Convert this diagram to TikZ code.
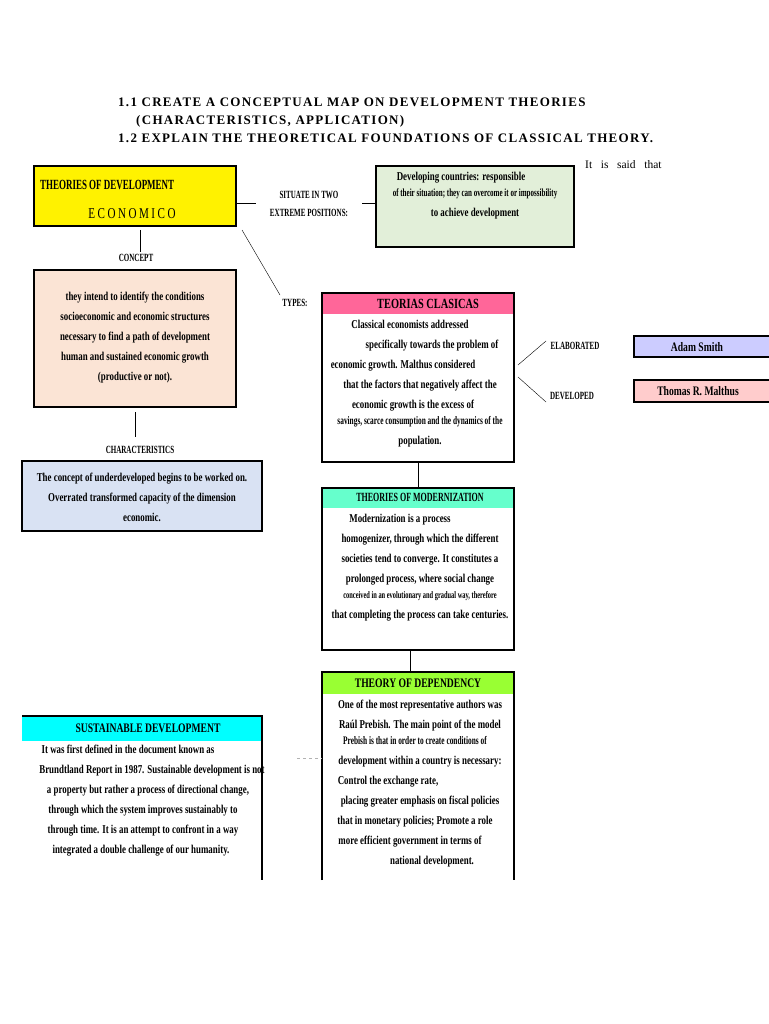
\documentclass[tikz,border=0pt]{standalone}
\usepackage{fontspec}
\setmainfont{Liberation Serif}
\newfontfamily\narrowfont[FakeStretch=0.74]{Liberation Serif}
\newfontfamily\tagfont[FakeStretch=0.64]{Liberation Serif}
\newfontfamily\titlefont[LetterSpace=10]{Liberation Serif}
\definecolor{paleGreen}{HTML}{E2EFD9}
\definecolor{palePeach}{HTML}{FBE4D5}
\definecolor{paleBlue}{HTML}{D9E2F3}
\definecolor{headPink}{HTML}{FF6699}
\definecolor{headAqua}{HTML}{66FFCC}
\definecolor{headLime}{HTML}{99FF33}
\definecolor{headCyan}{HTML}{00FFFF}
\begin{document}
\begin{tikzpicture}[x=1pt,y=-1pt,
  boxline/.style={draw,line width=1.3pt},
  note/.style={font=\narrowfont\bfseries\fontsize{12}{20}\selectfont,align=center,inner sep=0pt},
  tag/.style={font=\tagfont\bfseries\fontsize{11}{18}\selectfont,align=center,inner sep=0pt}]
\useasboundingbox (0,0) rectangle (768,1024);
% title
\node[anchor=west,font=\titlefont\bfseries\fontsize{13}{18}\selectfont,align=left,inner sep=0pt] (title) at (118,120)
  {1.1 CREATE A CONCEPTUAL MAP ON DEVELOPMENT THEORIES\\
   \hspace*{18pt}(CHARACTERISTICS, APPLICATION)\\
   1.2 EXPLAIN THE THEORETICAL FOUNDATIONS OF CLASSICAL THEORY.};
\node[anchor=west,font=\fontsize{11.5}{12}\selectfont,inner sep=0pt] (said) at (585,165) {It\ \ \ is\ \ \ said\ \ \ that};
% main boxes
\draw[boxline,fill=yellow] (34,166) rectangle (236,226);
\node[anchor=west,font=\tagfont\bfseries\fontsize{14}{14}\selectfont,inner sep=0pt] (tod) at (40,185) {THEORIES OF DEVELOPMENT};
\node[font=\narrowfont\fontsize{15}{14}\selectfont,inner sep=0pt] (eco) at (132,214) {E\,C\,O\,N\,O\,M\,I\,C\,O};
\draw[boxline,fill=paleGreen] (376,166) rectangle (574,247);
\node[note] (extreme) at (475,196) {\hspace*{-28pt}Developing countries: responsible\\[-4pt]
  {\tagfont\fontsize{11}{14}\selectfont of their situation; they can overcome it or impossibility}\\ to achieve development};
\node[tag] (situate) at (309,204) {SITUATE IN TWO\\EXTREME POSITIONS:};
\draw (236,203) -- (256,203);
\draw (362,203) -- (376,203);
% concept
\draw (140,230) -- (140,252);
\node[tag] (concept) at (136,258) {CONCEPT};
\draw[boxline,fill=palePeach] (34,270) rectangle (236,407);
\node[note] (intend) at (135,338) {they intend to identify the conditions\\
  socioeconomic and economic structures\\ necessary to find a path of development\\
  human and sustained economic growth\\ (productive or not).};
\draw (135,412) -- (135,437);
\node[tag] (charac) at (140,450) {CHARACTERISTICS};
\draw[boxline,fill=paleBlue] (22,461) rectangle (262,531);
\node[note] (under) at (142,497) {The concept of underdeveloped begins to be worked on.\\
  Overrated transformed capacity of the dimension\\ economic.};
% types
\draw (242,230) -- (280,295);
\node[tag] (types) at (295,303) {TYPES:};
\draw[boxline] (322,293) rectangle (514,462);
\fill[headPink] (323,294) rectangle (513,314);
\node[font=\narrowfont\bfseries\fontsize{14}{14}\selectfont,inner sep=0pt] (clas) at (428,304) {TEORIAS CLASICAS};
\node[note] (clastext) at (420,384) {\hspace*{-20pt}Classical economists addressed\\
  \hspace*{24pt}specifically towards the problem of\\ \hspace*{-34pt}economic growth. Malthus considered\\
  that the factors that negatively affect the\\ \hspace*{-14pt}economic growth is the excess of\\[-4pt]
  {\tagfont\fontsize{11.5}{14}\selectfont savings, scarce consumption and the dynamics of the}\\ population.};
\draw (518,365) -- (546,341);
\draw (518,377) -- (546,402);
\node[tag] (elab) at (575,346) {ELABORATED};
\node[tag] (devel) at (572,396) {DEVELOPED};
\draw[boxline,fill=blue!20!white] (634,336) rectangle (770,357);
\node[note,font=\narrowfont\bfseries\fontsize{13}{14}\selectfont] (smith) at (697,347) {Adam Smith};
\draw[boxline,fill=red!20!white] (634,380) rectangle (770,402);
\node[note,font=\narrowfont\bfseries\fontsize{13}{14}\selectfont] (malthus) at (698,391) {Thomas R. Malthus};
% modernization
\draw (418,462) -- (418,488);
\draw[boxline] (322,488) rectangle (514,650);
\fill[headAqua] (323,489) rectangle (513,508);
\node[font=\tagfont\bfseries\fontsize{12.5}{14}\selectfont,inner sep=0pt] (modern) at (420,497) {THEORIES OF MODERNIZATION};
\node[note] (modtext) at (420,568) {\hspace*{-40pt}Modernization is a process\\
  homogenizer, through which the different\\ societies tend to converge. It constitutes a\\
  prolonged process, where social change\\[-4pt]
  {\tagfont\fontsize{10}{14}\selectfont conceived in an evolutionary and gradual way, therefore}\\
  that completing the process can take centuries.};
% dependency
\draw (410,650) -- (410,672);
\draw[line width=1.3pt] (322,880) -- (322,672) -- (514,672) -- (514,880);
\fill[headLime] (323,673) rectangle (513,694);
\node[font=\narrowfont\bfseries\fontsize{13}{14}\selectfont,inner sep=0pt] (depend) at (418,683) {THEORY OF DEPENDENCY};
\node[note] (deptext) at (420,784) {One of the most representative authors was\\
  Raúl Prebish. The main point of the model\\[-4pt]
  {\tagfont\fontsize{11.5}{14}\selectfont \hspace*{-10pt}Prebish is that in order to create conditions of}\\
  development within a country is necessary:\\ \hspace*{-64pt}Control the exchange rate,\\
  placing greater emphasis on fiscal policies\\ \hspace*{-10pt}that in monetary policies; Promote a role\\
  \hspace*{-20pt}more efficient government in terms of\\ \hspace*{24pt}national development.};
% sustainable
\draw[gray!60,dashed] (297,758) -- (322,758);
\draw[line width=1.3pt] (22,716) -- (262,716) -- (262,880);
\fill[headCyan] (22,717) rectangle (261,741);
\node[font=\narrowfont\bfseries\fontsize{13}{14}\selectfont,inner sep=0pt] (sust) at (148,728) {SUSTAINABLE DEVELOPMENT};
\node[note] (susttext) at (148,801) {\hspace*{-40pt}It was first defined in the document known as\\
  \hspace*{8pt}Brundtland Report in 1987. Sustainable development is not\\
  a property but rather a process of directional change,\\ \hspace*{-10pt}through which the system improves sustainably to\\
  \hspace*{-10pt}through time. It is an attempt to confront in a way\\ \hspace*{-14pt}integrated a double challenge of our humanity.};
\end{tikzpicture}
\end{document}
